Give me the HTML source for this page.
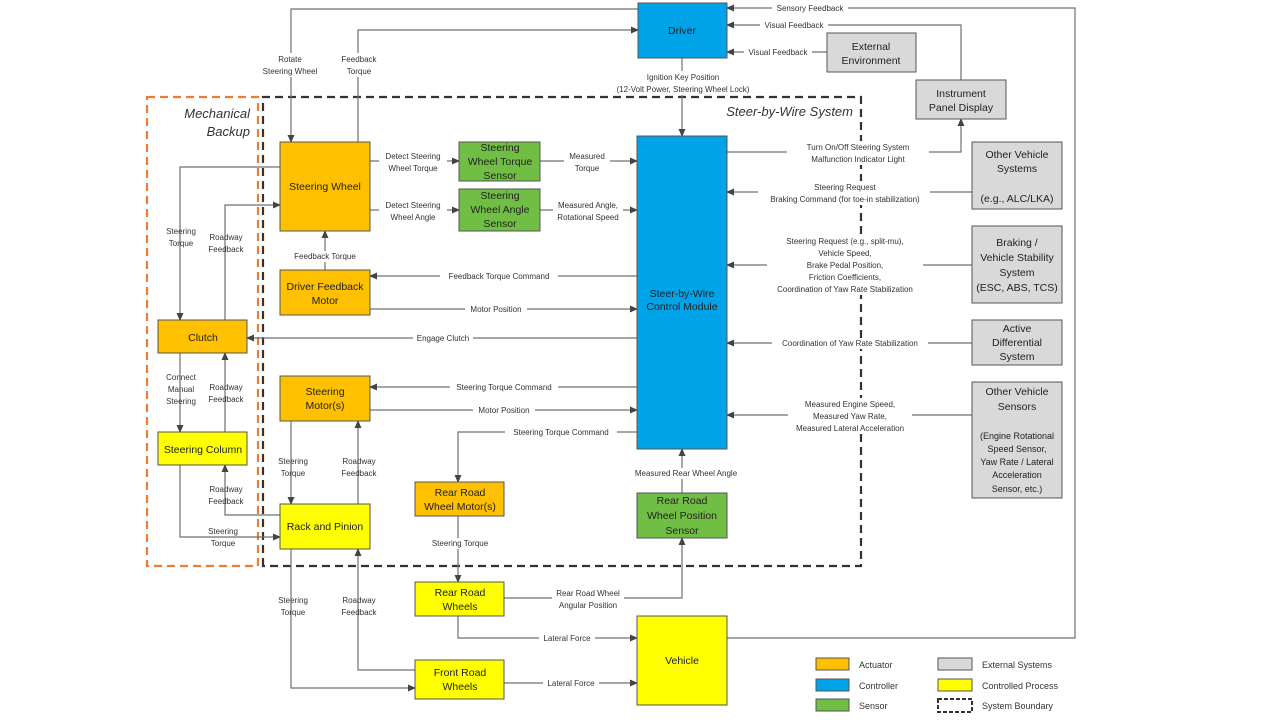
<!DOCTYPE html>
<html><head><meta charset="utf-8"><style>
body{margin:0;background:#fff}
svg{display:block;font-family:"Liberation Sans",sans-serif}
.l{fill:none;stroke:#707070;stroke-width:1.2}
.t{font-size:8px;fill:#333;text-anchor:middle}
.b{font-size:10.5px;fill:#222;text-anchor:middle}
.lb{fill:#fff}
</style></head><body>
<svg width="1280" height="720" viewBox="0 0 1280 720">
<defs><marker id="a" markerWidth="8" markerHeight="8" refX="7" refY="4" orient="auto" markerUnits="userSpaceOnUse"><path d="M0,0.5 L8,4 L0,7.5z" fill="#444"/></marker></defs>
<!-- boundaries -->
<rect x="147" y="97" width="111" height="469" fill="none" stroke="#ED7D31" stroke-width="2.2" stroke-dasharray="8,5"/>
<path d="M263,566 V97 H861 V566 Z" fill="none" stroke="#333" stroke-width="2.2" stroke-dasharray="8,5"/>
<text x="250" y="118" font-size="13" font-style="italic" text-anchor="end" fill="#333">Mechanical</text>
<text x="250" y="136" font-size="13" font-style="italic" text-anchor="end" fill="#333">Backup</text>
<text x="853" y="116" font-size="13" font-style="italic" text-anchor="end" fill="#333">Steer-by-Wire System</text>
<!-- connectors -->
<g class="l">
<path d="M727,638 H1075 V8 H727" marker-end="url(#a)"/>
<path d="M961,80 V25 H727" marker-end="url(#a)"/>
<path d="M827,52 H727" marker-end="url(#a)"/>
<path d="M638,9 H291 V142" marker-end="url(#a)"/>
<path d="M358,142 V30 H638" marker-end="url(#a)"/>
<path d="M682,58 V136" marker-end="url(#a)"/>
<path d="M727,152 H961 V119" marker-end="url(#a)"/>
<path d="M972,192 H727" marker-end="url(#a)"/>
<path d="M972,265 H727" marker-end="url(#a)"/>
<path d="M972,343 H727" marker-end="url(#a)"/>
<path d="M972,415 H727" marker-end="url(#a)"/>
<path d="M370,161 H459" marker-end="url(#a)"/>
<path d="M370,210 H459" marker-end="url(#a)"/>
<path d="M540,161 H637" marker-end="url(#a)"/>
<path d="M540,210 H637" marker-end="url(#a)"/>
<path d="M637,276 H370" marker-end="url(#a)"/>
<path d="M370,309 H637" marker-end="url(#a)"/>
<path d="M325,270 V231" marker-end="url(#a)"/>
<path d="M637,338 H247" marker-end="url(#a)"/>
<path d="M637,387 H370" marker-end="url(#a)"/>
<path d="M370,410 H637" marker-end="url(#a)"/>
<path d="M637,432 H458 V482" marker-end="url(#a)"/>
<path d="M682,493 V449" marker-end="url(#a)"/>
<path d="M504,598 H682 V538" marker-end="url(#a)"/>
<path d="M458,616 V638 H637" marker-end="url(#a)"/>
<path d="M458,516 V582" marker-end="url(#a)"/>
<path d="M504,683 H637" marker-end="url(#a)"/>
<path d="M280,167 H180 V320" marker-end="url(#a)"/>
<path d="M225,320 V205 H280" marker-end="url(#a)"/>
<path d="M180,353 V432" marker-end="url(#a)"/>
<path d="M225,432 V353" marker-end="url(#a)"/>
<path d="M180,465 V537 H280" marker-end="url(#a)"/>
<path d="M280,515 H225 V465" marker-end="url(#a)"/>
<path d="M291,421 V504" marker-end="url(#a)"/>
<path d="M358,504 V421" marker-end="url(#a)"/>
<path d="M291,549 V688 H415" marker-end="url(#a)"/>
<path d="M415,670 H358 V549" marker-end="url(#a)"/>
</g>
<!-- labels -->
<g class="lb">
<rect x="772" y="3" width="76" height="11"/><rect x="760" y="20" width="68" height="11"/><rect x="744" y="47" width="68" height="11"/>
<rect x="260" y="53" width="60" height="24"/><rect x="339" y="53" width="40" height="24"/>
<rect x="608" y="71" width="150" height="24"/>
<rect x="787" y="141" width="142" height="24"/><rect x="758" y="181" width="172" height="24"/>
<rect x="767" y="235" width="156" height="60"/><rect x="772" y="338" width="156" height="11"/>
<rect x="788" y="398" width="124" height="36"/>
<rect x="379" y="150" width="68" height="24"/><rect x="379" y="199" width="68" height="24"/>
<rect x="564" y="150" width="46" height="24"/><rect x="553" y="199" width="70" height="24"/>
<rect x="288" y="251" width="74" height="11"/><rect x="440" y="271" width="118" height="11"/>
<rect x="465" y="304" width="62" height="11"/><rect x="413" y="333" width="60" height="11"/>
<rect x="450" y="382" width="108" height="11"/><rect x="473" y="405" width="62" height="11"/>
<rect x="505" y="427" width="112" height="11"/><rect x="626" y="468" width="120" height="11"/>
<rect x="552" y="587" width="72" height="24"/><rect x="539" y="633" width="56" height="11"/>
<rect x="543" y="678" width="56" height="11"/><rect x="427" y="538" width="68" height="11"/>
</g>
<g class="t">
<text x="810" y="11">Sensory Feedback</text><text x="794" y="28">Visual Feedback</text><text x="778" y="55">Visual Feedback</text>
<text x="290" y="62">Rotate</text><text x="290" y="74">Steering Wheel</text>
<text x="359" y="62">Feedback</text><text x="359" y="74">Torque</text>
<text x="683" y="80">Ignition Key Position</text><text x="683" y="92">(12-Volt Power, Steering Wheel Lock)</text>
<text x="858" y="150">Turn On/Off Steering System</text><text x="858" y="162">Malfunction Indicator Light</text>
<text x="845" y="190">Steering Request</text><text x="845" y="202">Braking Command (for toe-in stabilization)</text>
<text x="845" y="244">Steering Request (e.g., split-mu),</text><text x="845" y="256">Vehicle Speed,</text><text x="845" y="268">Brake Pedal Position,</text><text x="845" y="280">Friction Coefficients,</text><text x="845" y="292">Coordination of Yaw Rate Stabilization</text>
<text x="850" y="346">Coordination of Yaw Rate Stabilization</text>
<text x="850" y="407">Measured Engine Speed,</text><text x="850" y="419">Measured Yaw Rate,</text><text x="850" y="431">Measured Lateral Acceleration</text>
<text x="413" y="159">Detect Steering</text><text x="413" y="171">Wheel Torque</text>
<text x="413" y="208">Detect Steering</text><text x="413" y="220">Wheel Angle</text>
<text x="587" y="159">Measured</text><text x="587" y="171">Torque</text>
<text x="588" y="208">Measured Angle,</text><text x="588" y="220">Rotational Speed</text>
<text x="325" y="259">Feedback Torque</text><text x="499" y="279">Feedback Torque Command</text>
<text x="496" y="312">Motor Position</text><text x="443" y="341">Engage Clutch</text>
<text x="504" y="390">Steering Torque Command</text><text x="504" y="413">Motor Position</text>
<text x="561" y="435">Steering Torque Command</text><text x="686" y="476">Measured Rear Wheel Angle</text>
<text x="588" y="596">Rear Road Wheel</text><text x="588" y="608">Angular Position</text>
<text x="567" y="641">Lateral Force</text><text x="571" y="686">Lateral Force</text>
<text x="460" y="546">Steering Torque</text>
<text x="181" y="234">Steering</text><text x="181" y="246">Torque</text>
<text x="226" y="240">Roadway</text><text x="226" y="252">Feedback</text>
<text x="181" y="380">Connect</text><text x="181" y="392">Manual</text><text x="181" y="404">Steering</text>
<text x="226" y="390">Roadway</text><text x="226" y="402">Feedback</text>
<text x="226" y="492">Roadway</text><text x="226" y="504">Feedback</text>
<text x="223" y="534">Steering</text><text x="223" y="546">Torque</text>
<text x="293" y="464">Steering</text><text x="293" y="476">Torque</text>
<text x="359" y="464">Roadway</text><text x="359" y="476">Feedback</text>
<text x="293" y="603">Steering</text><text x="293" y="615">Torque</text>
<text x="359" y="603">Roadway</text><text x="359" y="615">Feedback</text>
</g>
<!-- boxes -->
<g stroke="#555" stroke-width="1">
<rect x="638" y="3" width="89" height="55" fill="#00A2E8"/>
<rect x="637" y="136" width="90" height="313" fill="#00A2E8"/>
<rect x="827" y="33" width="89" height="39" fill="#D9D9D9"/>
<rect x="916" y="80" width="90" height="39" fill="#D9D9D9"/>
<rect x="972" y="142" width="90" height="67" fill="#D9D9D9"/>
<rect x="972" y="226" width="90" height="77" fill="#D9D9D9"/>
<rect x="972" y="320" width="90" height="45" fill="#D9D9D9"/>
<rect x="972" y="382" width="90" height="116" fill="#D9D9D9"/>
<rect x="280" y="142" width="90" height="89" fill="#FFC000"/>
<rect x="280" y="270" width="90" height="45" fill="#FFC000"/>
<rect x="158" y="320" width="89" height="33" fill="#FFC000"/>
<rect x="280" y="376" width="90" height="45" fill="#FFC000"/>
<rect x="415" y="482" width="89" height="34" fill="#FFC000"/>
<rect x="459" y="142" width="81" height="39" fill="#70BF44"/>
<rect x="459" y="189" width="81" height="42" fill="#70BF44"/>
<rect x="637" y="493" width="90" height="45" fill="#70BF44"/>
<rect x="158" y="432" width="89" height="33" fill="#FFFF00"/>
<rect x="280" y="504" width="90" height="45" fill="#FFFF00"/>
<rect x="415" y="582" width="89" height="34" fill="#FFFF00"/>
<rect x="415" y="660" width="89" height="39" fill="#FFFF00"/>
<rect x="637" y="616" width="90" height="89" fill="#FFFF00"/>
<rect x="816" y="658" width="33" height="12" fill="#FFC000"/>
<rect x="816" y="679" width="33" height="12" fill="#00A2E8"/>
<rect x="816" y="699" width="33" height="12" fill="#70BF44"/>
<rect x="938" y="658" width="34" height="12" fill="#D9D9D9"/>
<rect x="938" y="679" width="34" height="12" fill="#FFFF00"/>
<rect x="938" y="699" width="34" height="13" fill="none" stroke="#333" stroke-width="2" stroke-dasharray="4,2"/>
</g>
<g class="b">
<text x="682" y="34">Driver</text>
<text x="682" y="297">Steer-by-Wire</text><text x="682" y="310">Control Module</text>
<text x="871" y="50">External</text><text x="871" y="64">Environment</text>
<text x="961" y="97">Instrument</text><text x="961" y="111">Panel Display</text>
<text x="1017" y="158">Other Vehicle</text><text x="1017" y="172">Systems</text><text x="1017" y="202">(e.g., ALC/LKA)</text>
<text x="1017" y="246">Braking /</text><text x="1017" y="261">Vehicle Stability</text><text x="1017" y="276">System</text><text x="1017" y="291">(ESC, ABS, TCS)</text>
<text x="1017" y="332">Active</text><text x="1017" y="346">Differential</text><text x="1017" y="360">System</text>
<text x="1017" y="395">Other Vehicle</text><text x="1017" y="410">Sensors</text>
<g font-size="9"><text x="1017" y="439">(Engine Rotational</text><text x="1017" y="452">Speed Sensor,</text><text x="1017" y="465">Yaw Rate / Lateral</text><text x="1017" y="478">Acceleration</text><text x="1017" y="492">Sensor, etc.)</text></g>
<text x="325" y="190">Steering Wheel</text>
<text x="325" y="290">Driver Feedback</text><text x="325" y="304">Motor</text>
<text x="203" y="341">Clutch</text>
<text x="325" y="395">Steering</text><text x="325" y="409">Motor(s)</text>
<text x="460" y="496">Rear Road</text><text x="460" y="510">Wheel Motor(s)</text>
<text x="500" y="151">Steering</text><text x="500" y="165">Wheel Torque</text><text x="500" y="179">Sensor</text>
<text x="500" y="199">Steering</text><text x="500" y="213">Wheel Angle</text><text x="500" y="227">Sensor</text>
<text x="682" y="504">Rear Road</text><text x="682" y="519">Wheel Position</text><text x="682" y="534">Sensor</text>
<text x="203" y="453">Steering Column</text>
<text x="325" y="530">Rack and Pinion</text>
<text x="460" y="596">Rear Road</text><text x="460" y="610">Wheels</text>
<text x="460" y="676">Front Road</text><text x="460" y="690">Wheels</text>
<text x="682" y="664">Vehicle</text>
</g>
<g font-size="9" fill="#333">
<text x="859" y="668">Actuator</text><text x="859" y="689">Controller</text><text x="859" y="709">Sensor</text>
<text x="982" y="668">External Systems</text><text x="982" y="689">Controlled Process</text><text x="982" y="709">System Boundary</text>
</g>
</svg>
</body></html>
